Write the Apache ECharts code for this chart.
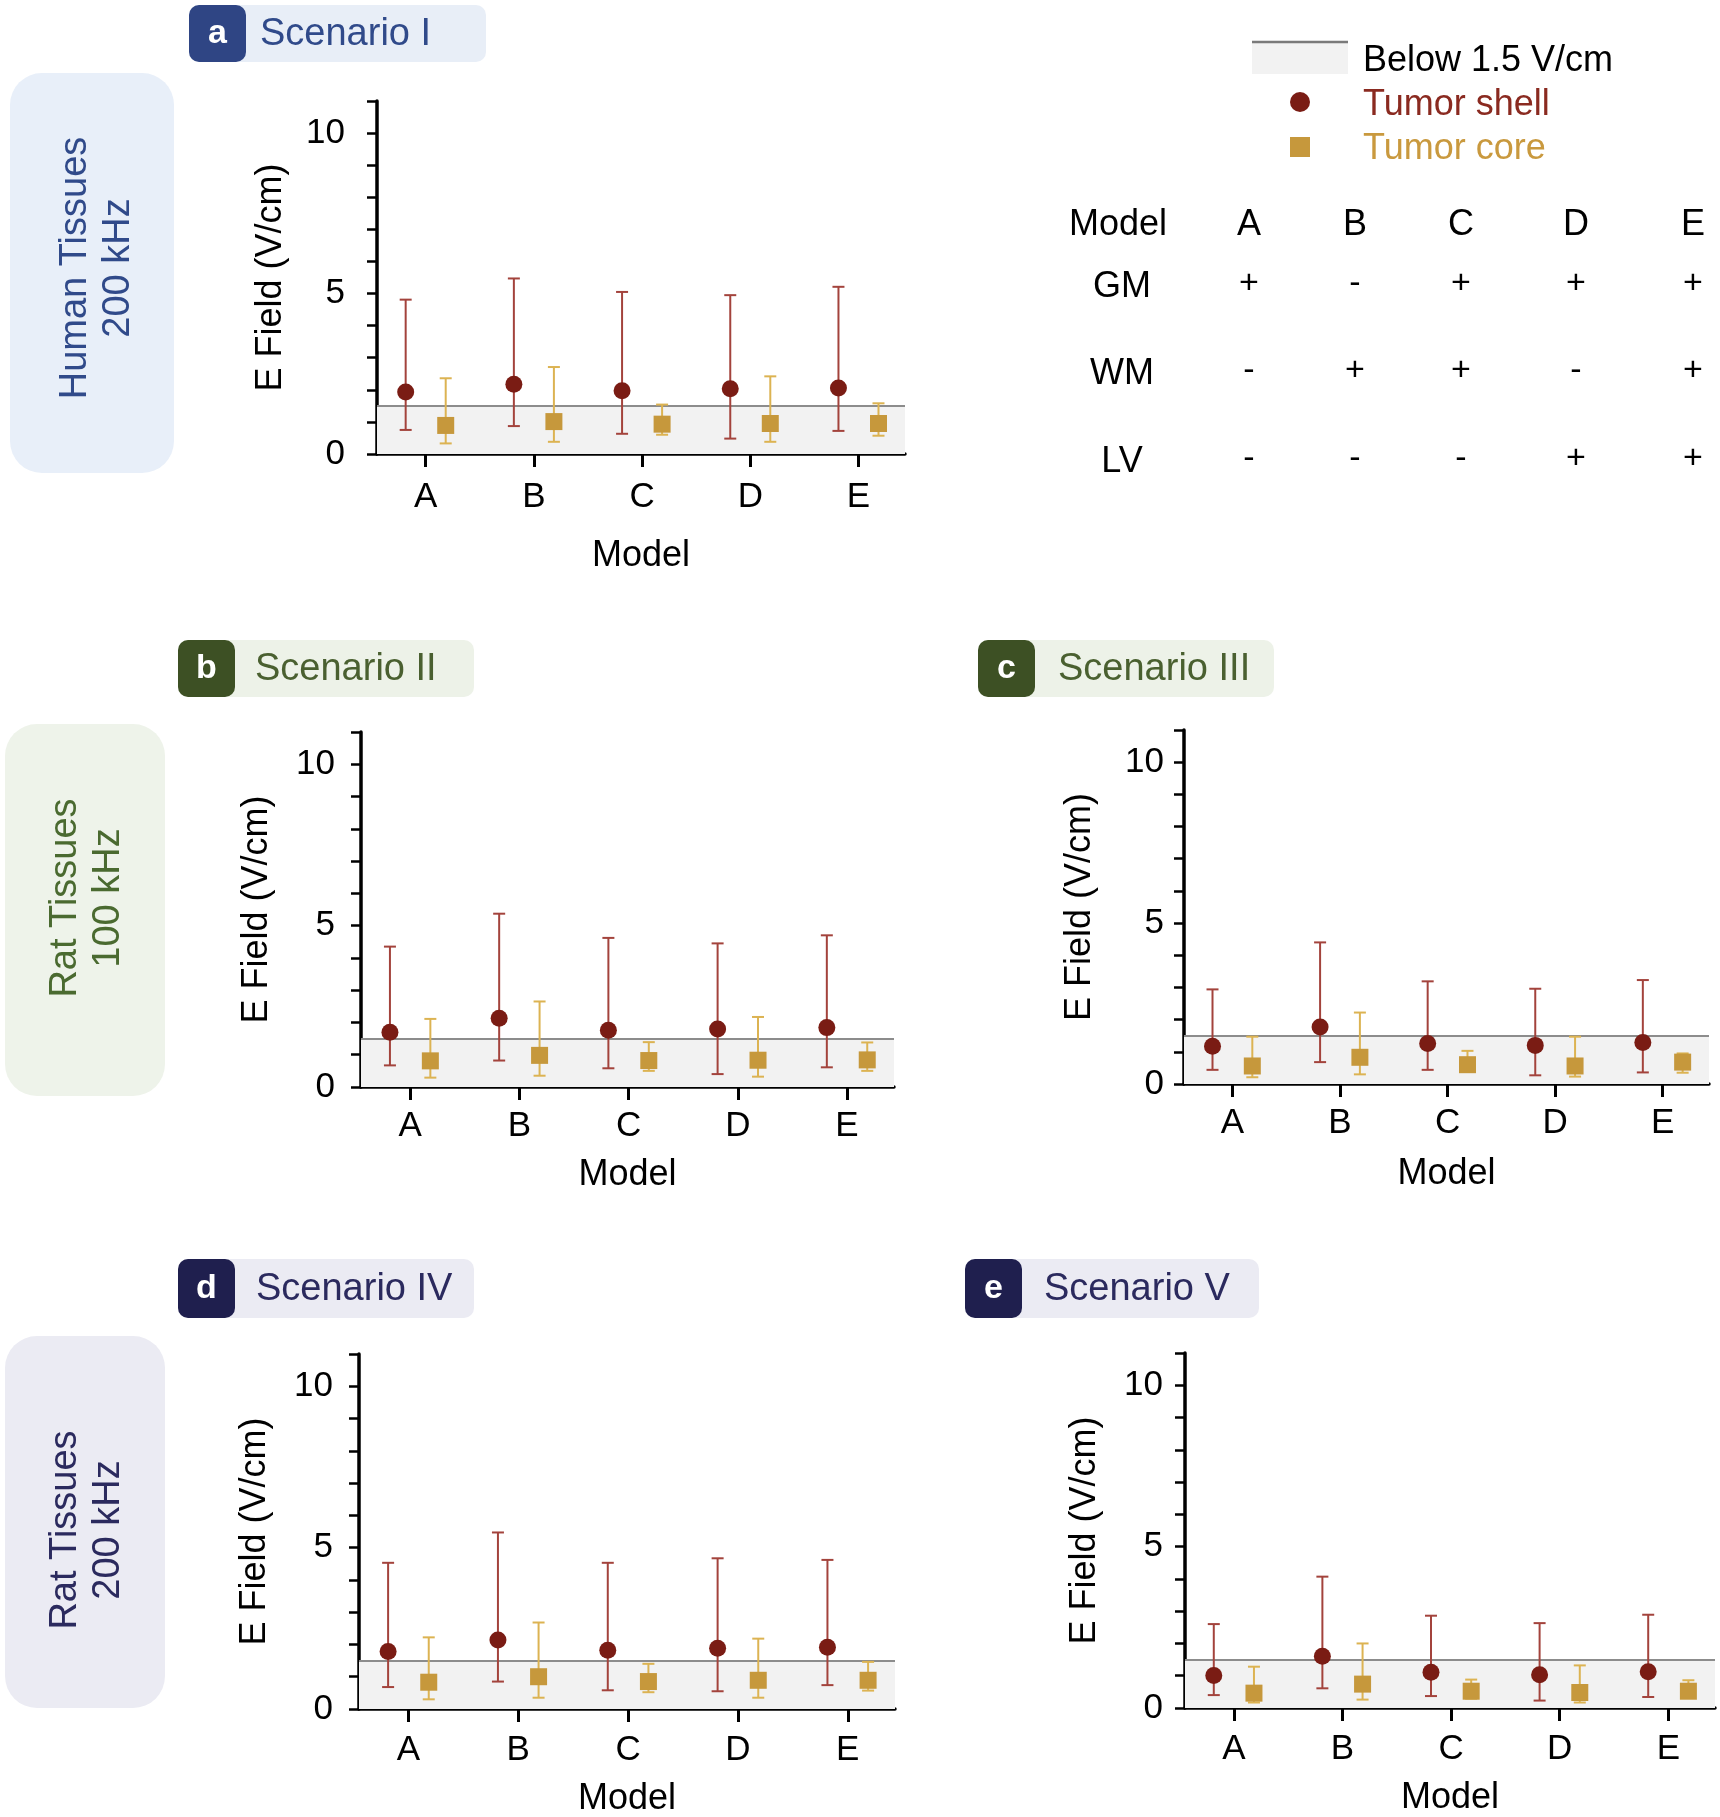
<!DOCTYPE html>
<html>
<head>
<meta charset="utf-8">
<script src="https://cdn.jsdelivr.net/npm/echarts@6/dist/echarts.min.js"></script>
<style>
  html, body { margin: 0; padding: 0; background: #fff; }
  #main { width: 1720px; height: 1817px; }
</style>
</head>
<body>
<div id="main"></div>
<script>
// categories / tick labels
var models = ['A', 'B', 'C', 'D', 'E'];
var yTicks = [0, 5, 10];
var threshold = 1.5;

// [mean, low, high] per model
var shell1 = [[1.93, 0.75, 4.81], [2.17, 0.87, 5.47], [1.97, 0.63, 5.05], [2.03, 0.48, 4.95], [2.06, 0.72, 5.21]];
var core1  = [[0.89, 0.33, 2.36], [1.01, 0.38, 2.71], [0.93, 0.60, 1.54], [0.95, 0.38, 2.42], [0.95, 0.57, 1.58]];
var shell2 = [[1.70, 0.67, 4.35], [2.13, 0.82, 5.37], [1.76, 0.58, 4.62], [1.80, 0.40, 4.45], [1.84, 0.61, 4.70]];
var core2  = [[0.81, 0.29, 2.11], [0.98, 0.35, 2.65], [0.82, 0.50, 1.39], [0.83, 0.32, 2.17], [0.84, 0.50, 1.38]];
var shell3 = [[1.17, 0.44, 2.94], [1.77, 0.68, 4.40], [1.26, 0.44, 3.19], [1.20, 0.27, 2.96], [1.29, 0.36, 3.23]];
var core3  = [[0.56, 0.21, 1.47], [0.83, 0.30, 2.22], [0.60, 0.39, 1.03], [0.56, 0.23, 1.47], [0.68, 0.35, 0.95]];
var shell4 = [[1.78, 0.68, 4.53], [2.14, 0.85, 5.47], [1.82, 0.58, 4.53], [1.88, 0.55, 4.67], [1.91, 0.74, 4.62]];
var core4  = [[0.83, 0.30, 2.22], [1.00, 0.35, 2.68], [0.85, 0.52, 1.40], [0.89, 0.35, 2.18], [0.89, 0.57, 1.46]];
var shell5 = [[1.01, 0.40, 2.60], [1.60, 0.61, 4.07], [1.11, 0.37, 2.86], [1.03, 0.23, 2.63], [1.12, 0.34, 2.89]];
var core5  = [[0.46, 0.17, 1.28], [0.74, 0.26, 2.00], [0.52, 0.29, 0.88], [0.48, 0.17, 1.32], [0.52, 0.33, 0.86]];

// model composition table
var tableRows = ['GM', 'WM', 'LV'];
var gmRow = ['+', '-', '+', '+', '+'];
var wmRow = ['-', '+', '+', '-', '+'];
var lvRow = ['-', '-', '-', '+', '+'];

var FONT = '"Liberation Sans", Arial, Helvetica, sans-serif';
var SHELL = '#7a1c14', SHELL_BAR = '#a3433c';
var CORE = '#c6983c', CORE_BAR = '#dcb352';
var OFF = 0.185;

var panels = [
  {tag: 'a', title: 'Scenario I', shell: shell1, core: core1,
   grid: {left: 377, top: 101, width: 528, height: 353}, yGap: 88, xGap: 84, lblMargin: 32, xMargin: 26,
   badge: [189, 5, 297, 57, 260], dark: '#2f4584', light: '#e8eef7', txt: '#304a8a'},
  {tag: 'b', title: 'Scenario II', shell: shell2, core: core2,
   grid: {left: 361, top: 732, width: 533, height: 355}, yGap: 86, xGap: 70, lblMargin: 26, xMargin: 22,
   badge: [178, 640, 296, 57, 255], dark: '#3d5024', light: '#edf2e8', txt: '#4a6030'},
  {tag: 'c', title: 'Scenario III', shell: shell3, core: core3,
   grid: {left: 1184, top: 730, width: 525, height: 354}, yGap: 86, xGap: 72, lblMargin: 20, xMargin: 22,
   badge: [978, 640, 296, 57, 1058], dark: '#3d5024', light: '#edf2e8', txt: '#4a6030'},
  {tag: 'd', title: 'Scenario IV', shell: shell4, core: core4,
   grid: {left: 359, top: 1354, width: 536, height: 355}, yGap: 86, xGap: 72, lblMargin: 26, xMargin: 24,
   badge: [178, 1259, 296, 59, 256], dark: '#1f1f4e', light: '#ebebf3', txt: '#2b2a5e'},
  {tag: 'e', title: 'Scenario V', shell: shell5, core: core5,
   grid: {left: 1185, top: 1353, width: 530, height: 355}, yGap: 82, xGap: 72, lblMargin: 22, xMargin: 24,
   badge: [965, 1259, 294, 59, 1044], dark: '#1f1f4e', light: '#ebebf3', txt: '#2b2a5e'}
];

function errBar(color) {
  return function (params, api) {
    var x = api.value(0);
    var lo = api.coord([x, api.value(1)]);
    var hi = api.coord([x, api.value(2)]);
    var w = 6;
    var st = {stroke: color, lineWidth: 2};
    return {
      type: 'group',
      children: [
        {type: 'line', shape: {x1: hi[0], y1: hi[1], x2: lo[0], y2: lo[1]}, style: st},
        {type: 'line', shape: {x1: hi[0] - w, y1: hi[1], x2: hi[0] + w, y2: hi[1]}, style: st},
        {type: 'line', shape: {x1: lo[0] - w, y1: lo[1], x2: lo[0] + w, y2: lo[1]}, style: st}
      ]
    };
  };
}

var grids = [], xAxes = [], yAxes = [], series = [], graphics = [];

panels.forEach(function (p, i) {
  grids.push({left: p.grid.left, top: p.grid.top, width: p.grid.width, height: p.grid.height,
              outerBoundsMode: 'none', containLabel: false});
  xAxes.push({
    gridIndex: i, type: 'value', min: -0.45, max: 4.43,
    name: 'Model', nameLocation: 'middle', nameGap: p.xGap,
    nameTextStyle: {fontFamily: FONT, fontSize: 36, color: '#000'},
    splitLine: {show: false},
    axisLine: {show: true, onZero: false, lineStyle: {color: '#000', width: 3.5}},
    axisTick: {show: true, length: 13, lineStyle: {color: '#000', width: 3}, customValues: [0, 1, 2, 3, 4]},
    axisLabel: {customValues: [0, 1, 2, 3, 4], margin: p.xMargin, fontFamily: FONT, fontSize: 35, color: '#000',
                formatter: function (v) { return models[Math.round(v)]; }}
  });
  yAxes.push({
    gridIndex: i, type: 'value', min: 0, max: 11, interval: 1,
    name: 'E Field (V/cm)', nameLocation: 'middle', nameGap: p.yGap, nameRotate: 90,
    nameTextStyle: {fontFamily: FONT, fontSize: 36, color: '#000'},
    splitLine: {show: false},
    axisLine: {show: true, onZero: false, lineStyle: {color: '#000', width: 3.5}},
    axisTick: {show: true, length: 10, lineStyle: {color: '#000', width: 2.5}},
    axisLabel: {margin: p.lblMargin, fontFamily: FONT, fontSize: 35, color: '#000',
                formatter: function (v) { return yTicks.indexOf(v) >= 0 ? String(v) : ''; }}
  });

  series.push({
    type: 'custom', xAxisIndex: i, yAxisIndex: i, z: 3,
    renderItem: errBar(SHELL_BAR), encode: {x: 0, y: [1, 2]},
    data: p.shell.map(function (t, j) { return [j - OFF, t[1], t[2]]; }),
    markArea: {silent: true, z: 1, itemStyle: {color: '#f2f2f2'},
               data: [[{yAxis: 0}, {yAxis: threshold}]]},
    markLine: {silent: true, symbol: 'none', z: 2, label: {show: false},
               lineStyle: {color: '#8c8c8c', width: 2, type: 'solid'},
               data: [{yAxis: threshold}]}
  });
  series.push({
    type: 'custom', xAxisIndex: i, yAxisIndex: i, z: 3,
    renderItem: errBar(CORE_BAR), encode: {x: 0, y: [1, 2]},
    data: p.core.map(function (t, j) { return [j + OFF, t[1], t[2]]; })
  });
  series.push({
    type: 'scatter', name: 'Tumor shell', xAxisIndex: i, yAxisIndex: i, z: 4,
    symbol: 'circle', symbolSize: 17, itemStyle: {color: SHELL, opacity: 1},
    data: p.shell.map(function (t, j) { return [j - OFF, t[0]]; })
  });
  series.push({
    type: 'scatter', name: 'Tumor core', xAxisIndex: i, yAxisIndex: i, z: 4,
    symbol: 'rect', symbolSize: 17, itemStyle: {color: CORE, opacity: 1},
    data: p.core.map(function (t, j) { return [j + OFF, t[0]]; })
  });

  // panel badge
  var b = p.badge;
  graphics.push({type: 'rect', shape: {x: b[0], y: b[1], width: b[2], height: b[3], r: 10}, style: {fill: p.light}});
  graphics.push({type: 'rect', shape: {x: b[0], y: b[1], width: 57, height: b[3], r: 10}, style: {fill: p.dark}});
  graphics.push({type: 'text', x: b[0] + 28.5, y: b[1] + b[3] / 2,
                 style: {text: p.tag, fill: '#fff', font: 'bold 34px ' + FONT, align: 'center', verticalAlign: 'middle'}});
  graphics.push({type: 'text', x: b[4], y: b[1] + b[3] / 2 + 1,
                 style: {text: p.title, fill: p.txt, font: '38px ' + FONT, align: 'left', verticalAlign: 'middle'}});
});

// row labels on the left
var rowLabels = [
  {lines: ['Human Tissues', '200 kHz'], box: [10, 73, 164, 400], cx: [76, 119], cy: 268, bg: '#e8eff9', fg: '#304a8a'},
  {lines: ['Rat Tissues', '100 kHz'], box: [5, 724, 160, 372], cx: [66, 109], cy: 898, bg: '#eef3ea', fg: '#4a6a30'},
  {lines: ['Rat Tissues', '200 kHz'], box: [5, 1336, 160, 372], cx: [66, 109], cy: 1530, bg: '#ebebf3', fg: '#2b2a5e'}
];
rowLabels.forEach(function (r) {
  graphics.push({type: 'rect', shape: {x: r.box[0], y: r.box[1], width: r.box[2], height: r.box[3], r: 32},
                 style: {fill: r.bg}});
  r.lines.forEach(function (t, k) {
    graphics.push({type: 'text', x: r.cx[k], y: r.cy, rotation: Math.PI / 2,
                   style: {text: t, fill: r.fg, font: '38px ' + FONT, align: 'center', verticalAlign: 'middle'}});
  });
});

// legend
graphics.push({type: 'rect', shape: {x: 1252, y: 41, width: 96, height: 33}, style: {fill: '#f2f2f2'}});
graphics.push({type: 'line', shape: {x1: 1252, y1: 42, x2: 1348, y2: 42}, style: {stroke: '#7a7a7a', lineWidth: 2.5}});
graphics.push({type: 'text', x: 1363, y: 61, style: {text: 'Below 1.5 V/cm', fill: '#000', font: '36px ' + FONT, verticalAlign: 'middle'}});
graphics.push({type: 'circle', shape: {cx: 1300, cy: 102, r: 10}, style: {fill: SHELL}});
graphics.push({type: 'text', x: 1363, y: 105, style: {text: 'Tumor shell', fill: '#8a2a20', font: '36px ' + FONT, verticalAlign: 'middle'}});
graphics.push({type: 'rect', shape: {x: 1290, y: 137, width: 20, height: 20}, style: {fill: CORE}});
graphics.push({type: 'text', x: 1363, y: 149, style: {text: 'Tumor core', fill: '#c9993e', font: '36px ' + FONT, verticalAlign: 'middle'}});

// model composition table
var colX = [1249, 1355, 1461, 1576, 1693];
var rowY = [287, 374, 462];
var rowVals = [gmRow, wmRow, lvRow];
graphics.push({type: 'text', x: 1118, y: 225, style: {text: 'Model', fill: '#000', font: '36px ' + FONT, align: 'center', verticalAlign: 'middle'}});
models.forEach(function (m, j) {
  graphics.push({type: 'text', x: colX[j], y: 225, style: {text: m, fill: '#000', font: '36px ' + FONT, align: 'center', verticalAlign: 'middle'}});
});
tableRows.forEach(function (name, k) {
  graphics.push({type: 'text', x: 1122, y: rowY[k], style: {text: name, fill: '#000', font: '36px ' + FONT, align: 'center', verticalAlign: 'middle'}});
  rowVals[k].forEach(function (v, j) {
    graphics.push({type: 'text', x: colX[j], y: rowY[k] - 3, style: {text: v, fill: '#000', font: '34px ' + FONT, align: 'center', verticalAlign: 'middle'}});
  });
});

var chart = echarts.init(document.getElementById('main'));
chart.setOption({
  animation: false,
  backgroundColor: '#fff',
  textStyle: {fontFamily: FONT},
  grid: grids,
  xAxis: xAxes,
  yAxis: yAxes,
  series: series,
  graphic: graphics
});
</script>
</body>
</html>
